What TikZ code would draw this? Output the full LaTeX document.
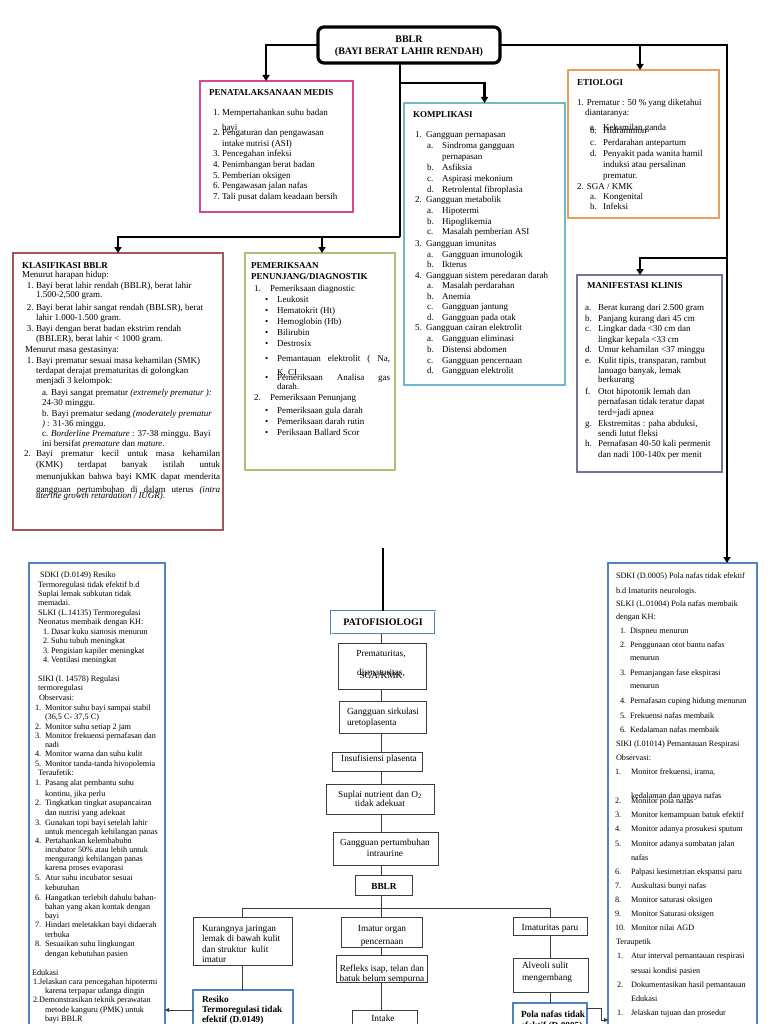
\documentclass[tikz,border=0pt]{standalone}
\usepackage{fontspec}
\setmainfont{Liberation Serif}
\usetikzlibrary{arrows.meta}
\definecolor{cPen}{RGB}{214,72,150}
\definecolor{cKom}{RGB}{110,185,205}
\definecolor{cEti}{RGB}{232,160,95}
\definecolor{cKla}{RGB}{165,85,95}
\definecolor{cPem}{RGB}{185,185,115}
\definecolor{cMan}{RGB}{120,115,150}
\definecolor{cBlu}{RGB}{80,130,190}
\definecolor{cGry}{RGB}{60,60,60}
\newcounter{tln}
\newcommand\tline[3]{\stepcounter{tln}\node[tx,anchor=base west] (t\arabic{tln}) at (#1,#2+3) {#3};}
\newcommand\tcen[3]{\stepcounter{tln}\node[tx,anchor=base] (t\arabic{tln}) at (#1,#2+3) {#3};}
\newcommand\nitem[5]{\tline{#1}{#3}{#4}\tline{#2}{#3}{#5}}
\newcommand\mybox[6]{\node[#2,anchor=north west,minimum width=#5pt-#3pt,minimum height=#6pt-#4pt] (#1) at (#3,#4) {};}
\tikzset{
  tx/.style={inner sep=0pt,outer sep=0pt,font=\fontsize{9}{10}\selectfont},
  fr/.style={draw,inner sep=0pt,outer sep=0pt},
  topbox/.style={fr,draw=black,line width=3.2pt,rounded corners=6pt},
  flowbox/.style={fr,draw=cGry,line width=0.9pt},
  keybox/.style={fr,draw=cBlu,line width=1.8pt},
  conn/.style={line width=2.2pt,black},
  arr/.style={-{Triangle[length=6pt,width=7pt]}},
  arrs/.style={-{Triangle[length=4pt,width=4pt]}},
  fl/.style={draw=cGry,line width=0.8pt}
}
\begin{document}
\begin{tikzpicture}[x=1pt,y=-1pt]
\useasboundingbox (0,0) rectangle (768,1024);
\fill[white] (0,0) rectangle (768,1024);
% ---------- boxes ----------
\mybox{bblr}{topbox}{318}{27}{500}{63}
\mybox{pen}{fr,draw=cPen,line width=2.6pt}{200}{81}{353}{212}
\mybox{kom}{fr,draw=cKom,line width=2.2pt}{404}{103}{565}{385}
\mybox{eti}{fr,draw=cEti,line width=2.6pt}{568}{70}{719}{218}
\mybox{kla}{fr,draw=cKla,line width=2.2pt}{13}{253}{223}{530}
\mybox{pem}{fr,draw=cPem,line width=2.6pt}{245}{253}{395}{470}
\mybox{man}{fr,draw=cMan,line width=2.2pt}{577}{275}{722}{472}
\mybox{lbx}{fr,draw=cBlu,line width=1.4pt}{29}{563}{165}{1034}
\mybox{rbx}{fr,draw=cBlu,line width=1.4pt}{608}{563}{757}{1034}
\mybox{pato}{fr,draw=cBlu,line width=1pt,double=white,double distance=0.8pt}{331}{611}{435}{634}
\mybox{prem}{flowbox}{338}{643}{426}{689}
\mybox{sirk}{flowbox}{339}{701}{426}{733}
\mybox{insf}{flowbox}{332}{752}{422}{771}
\mybox{supl}{flowbox}{326}{784}{434}{814}
\mybox{pert}{flowbox}{333}{832}{438}{865}
\mybox{bbl2}{flowbox}{355}{875}{412}{895}
\mybox{kur}{flowbox}{193}{917}{292}{965}
\mybox{imo}{flowbox}{341}{917}{422}{947}
\mybox{ref}{flowbox}{336}{955}{427}{982}
\mybox{int}{flowbox}{352}{1010}{417}{1040}
\mybox{imp}{flowbox}{513}{917}{587}{935}
\mybox{alv}{flowbox}{513}{958}{588}{992}
\mybox{res}{keybox}{193}{990}{293}{1040}
\mybox{pol}{keybox}{513}{1003}{587}{1040}
% ---------- top connectors ----------
\coordinate (penin) at ([xshift=66pt]pen.north west);
\coordinate (spA) at ([xshift=-9pt]bblr.south);
\coordinate (spB) at (400,237);
\coordinate (komA) at (400,83);
\coordinate (klain) at ([xshift=105pt]kla.north west);
\coordinate (pemin) at ([xshift=77pt]pem.north west);
\coordinate (rtop) at ([xshift=119pt]rbx.north west);
\coordinate (etiin) at ([xshift=72pt]eti.north west);
\coordinate (manin) at ([xshift=63pt]man.north west);
\coordinate (manB) at (727,258);
\coordinate (spC) at (383,548);
\draw[conn,arr] (bblr.west) -| (penin);
\draw[conn] (spA) -- (spB);
\draw[conn,arr] (komA) -| (kom.north);
\draw[conn,arr] (spB) -| (klain);
\draw[conn,arr] (spB -| pemin) -- (pemin);
\draw[conn,arr] (bblr.east) -| (rtop);
\draw[conn,arr] (bblr.east -| etiin) -- (etiin);
\draw[conn,arr] (manB) -| (manin);
\draw[conn] (spC) -- (pato.north);
% ---------- flow connectors ----------
\coordinate (sx) at (381,0);
\coordinate (hb) at (381,908);
\draw[fl] (pato.south -| sx) -- (prem.north -| sx);
\draw[fl] (prem.south -| sx) -- (sirk.north -| sx);
\draw[fl] (sirk.south -| sx) -- (insf.north -| sx);
\draw[fl] (insf.south -| sx) -- (supl.north -| sx);
\draw[fl] (supl.south -| sx) -- (pert.north -| sx);
\draw[fl] (pert.south -| sx) -- (bbl2.north -| sx);
\draw[fl] (bbl2.south -| sx) -- (hb);
\draw[fl] (kur.north |- hb) -- (imp.north |- hb);
\draw[fl] (kur.north |- hb) -- (kur.north);
\draw[fl] (hb) -- (imo.north -| sx);
\draw[fl] (imp.north |- hb) -- (imp.north);
\draw[fl] (imo.south -| sx) -- (ref.north -| sx);
\draw[fl] (ref.south -| sx) -- (int.north -| sx);
\draw[fl] (kur.south) -- (res.north -| kur.south);
\draw[fl] (imp.south) -- (alv.north -| imp.south);
\draw[fl] (alv.south -| imp.south) -- (pol.north -| imp.south);
\coordinate (resA) at ([yshift=-20pt]res.north west);
\coordinate (polA) at ([yshift=-5pt]pol.north east);
\coordinate (polB) at (601,1020);
\draw[fl,arrs] (resA) -- (resA -| lbx.east);
\draw[fl,arrs] (polA) -| (polB) -- (polB -| rbx.west);
% ---------- BBLR title ----------
\tikzset{tx/.style={inner sep=0pt,outer sep=0pt,font=\fontsize{10}{12}\selectfont\bfseries}}
\tcen{409}{40}{BBLR}
\tcen{409}{52}{(BAYI BERAT LAHIR RENDAH)}
% ---------- Penatalaksanaan ----------
\tikzset{tx/.style={inner sep=0pt,outer sep=0pt,font=\fontsize{9}{10}\selectfont}}
\tline{209}{93}{\textbf{PENATALAKSANAAN MEDIS}}
\nitem{213}{222}{113}{1.}{Mempertahankan suhu badan}
\tline{222}{128}{bayi}
\nitem{213}{222}{133}{2.}{Pengaturan dan pengawasan}
\tline{222}{144}{intake nutrisi (ASI)}
\nitem{213}{222}{154}{3.}{Pencegahan infeksi}
\nitem{213}{222}{165}{4.}{Penimbangan berat badan}
\nitem{213}{222}{176}{5.}{Pemberian oksigen}
\nitem{213}{222}{186}{6.}{Pengawasan jalan nafas}
\nitem{213}{222}{197}{7.}{Tali pusat dalam keadaan bersih}
% ---------- Komplikasi ----------
\tline{413}{115}{\textbf{KOMPLIKASI}}
\nitem{415}{426}{135}{1.}{Gangguan pernapasan}
\nitem{427}{442}{146}{a.}{Sindroma gangguan}
\tline{442}{157}{pernapasan}
\nitem{427}{442}{168}{b.}{Asfiksia}
\nitem{427}{442}{179}{c.}{Aspirasi mekonium}
\nitem{427}{442}{190}{d.}{Retrolental fibroplasia}
\nitem{415}{426}{200}{2.}{Gangguan metabolik}
\nitem{427}{442}{211}{a.}{Hipotermi}
\nitem{427}{442}{222}{b.}{Hipoglikemia}
\nitem{427}{442}{232}{c.}{Masalah pemberian ASI}
\nitem{415}{426}{243}{3.}{Gangguan imunitas}
\nitem{427}{442}{254}{a.}{Gangguan imunologik}
\nitem{427}{442}{264}{b.}{Ikterus}
\nitem{415}{426}{275}{4.}{Gangguan sistem peredaran darah}
\nitem{427}{442}{285}{a.}{Masalah perdarahan}
\nitem{427}{442}{296}{b.}{Anemia}
\nitem{427}{442}{306}{c.}{Gangguan jantung}
\nitem{427}{442}{317}{d.}{Gangguan pada otak}
\nitem{415}{426}{327}{5.}{Gangguan cairan elektrolit}
\nitem{427}{442}{338}{a.}{Gangguan eliminasi}
\nitem{427}{442}{349}{b.}{Distensi abdomen}
\nitem{427}{442}{360}{c.}{Gangguan pencernaan}
\nitem{427}{442}{370}{d.}{Gangguan elektrolit}
% ---------- Etiologi ----------
\tline{577}{83}{\textbf{ETIOLOGI}}
\tline{577}{103}{1. Prematur : 50 \% yang diketahui}
\tline{585}{113}{diantaranya:}
\nitem{590}{603}{128}{a.}{Kehamilan ganda}
\nitem{590}{603}{131}{b.}{Hidramnion}
\nitem{590}{603}{143}{c.}{Perdarahan antepartum}
\nitem{590}{603}{154}{d.}{Penyakit pada wanita hamil}
\tline{603}{165}{induksi atau persalinan}
\tline{603}{176}{prematur.}
\tline{577}{187}{2. SGA / KMK}
\nitem{590}{603}{197}{a.}{Kongenital}
\nitem{590}{603}{207}{b.}{Infeksi}
% ---------- Klasifikasi ----------
\tline{22}{265}{\textbf{KLASIFIKASI BBLR}}
\tline{22}{274}{Menurut harapan hidup:}
\nitem{27}{36}{285}{1.}{Bayi berat lahir rendah (BBLR), berat lahir}
\tline{36}{294}{1.500-2,500 gram.}
\nitem{27}{36}{307}{2.}{Bayi berat lahir sangat rendah (BBLSR), berat}
\tline{36}{317}{lahir 1.000-1.500 gram.}
\nitem{27}{36}{328}{3.}{Bayi dengan berat badan ekstrim rendah}
\tline{36}{338}{(BBLER), berat lahir < 1000 gram.}
\tline{25}{349}{Menurut masa gestasinya:}
\nitem{27}{36}{360}{1.}{Bayi prematur sesuai masa kehamilan (SMK)}
\tline{36}{370}{terdapat derajat prematuritas di golongkan}
\tline{36}{380}{menjadi 3 kelompok:}
\tline{42}{392}{a. Bayi sangat prematur \textit{(extremely prematur ):}}
\tline{42}{402}{24-30 minggu.}
\tline{42}{413}{b. Bayi prematur sedang \textit{(moderately prematur}}
\tline{42}{423}{\textit{)} : 31-36 minggu.}
\tline{42}{433}{c. \textit{Borderline Premature} : 37-38 minggu. Bayi}
\tline{42}{443}{ini bersifat \textit{premature} dan \textit{mature}.}
\nitem{24}{36}{453}{2.}{\makebox[184pt][s]{Bayi prematur kecil untuk masa kehamilan}}
\tline{36}{464}{\makebox[184pt][s]{(KMK) terdapat banyak istilah untuk}}
\tline{36}{476}{\makebox[184pt][s]{menunjukkan bahwa bayi KMK dapat menderita}}
\tline{36}{489}{\makebox[184pt][s]{gangguan pertumbuhan di dalam uterus \textit{(intra}}}
\tline{36}{495}{\textit{uterine growth retardation / IUGR)}.}
% ---------- Pemeriksaan ----------
\tline{251}{265}{\textbf{PEMERIKSAAN}}
\tline{251}{276}{\textbf{PENUNJANG/DIAGNOSTIK}}
\nitem{254}{270}{288}{1.}{Pemeriksaan diagnostic}
\nitem{265}{277}{299}{\textbullet}{Leukosit}
\nitem{265}{277}{310}{\textbullet}{Hematokrit (Ht)}
\nitem{265}{277}{321}{\textbullet}{Hemoglobin (Hb)}
\nitem{265}{277}{332}{\textbullet}{Bilirubin}
\nitem{265}{277}{343}{\textbullet}{Destrosix}
\nitem{265}{277}{358}{\textbullet}{\makebox[113pt][s]{Pemantauan elektrolit ( Na,}}
\tline{277}{372}{K, CI.}
\nitem{265}{277}{377}{\textbullet}{\makebox[113pt][s]{Pemeriksaan Analisa gas}}
\tline{277}{386}{darah.}
\nitem{254}{270}{397}{2.}{Pemeriksaan Penunjang}
\nitem{265}{277}{410}{\textbullet}{Pemeriksaan gula darah}
\nitem{265}{277}{421}{\textbullet}{Pemeriksaan darah rutin}
\nitem{265}{277}{432}{\textbullet}{Periksaan Ballard Scor}
% ---------- Manifestasi ----------
\tline{587}{285}{\textbf{MANIFESTASI KLINIS}}
\nitem{585}{598}{307}{a.}{Berat kurang dari 2.500 gram}
\nitem{585}{598}{318}{b.}{Panjang kurang dari 45 cm}
\nitem{585}{598}{328}{c.}{Lingkar dada <30 cm dan}
\tline{598}{339}{lingkar kepala <33 cm}
\nitem{585}{598}{349}{d.}{Umur kehamilan <37 minggu}
\nitem{585}{598}{360}{e.}{Kulit tipis, transparan, rambut}
\tline{598}{370}{lanuago banyak, lemak}
\tline{598}{379}{berkurang}
\nitem{585}{598}{391}{f.}{Otot hipotonik lemah dan}
\tline{598}{401}{pernafasan tidak teratur dapat}
\tline{598}{412}{terd=jadi apnea}
\nitem{585}{598}{423}{g.}{Ekstremitas : paha abduksi,}
\tline{598}{433}{sendi lutut fleksi}
\nitem{585}{598}{443}{h.}{Pernafasan 40-50 kali permenit}
\tline{598}{454}{dan nadi 100-140x per menit}
% ---------- Left bottom box ----------
\tikzset{tx/.style={inner sep=0pt,outer sep=0pt,font=\fontsize{8.2}{9}\selectfont}}
\tline{40}{574}{SDKI (D.0149) Resiko}
\tline{38}{584}{Termoregulasi tidak efektif b.d}
\tline{38}{593}{Suplai lemak subkutan tidak}
\tline{38}{602}{memadai.}
\tline{38}{612}{SLKI (L.14135) Termoregulasi}
\tline{38}{621}{Neonatus membaik dengan KH:}
\nitem{43}{51}{631}{1.}{Dasar kuku sianosis menurun}
\nitem{43}{51}{640}{2.}{Suhu tubuh meningkat}
\nitem{43}{51}{650}{3.}{Pengisian kapiler meningkat}
\nitem{43}{51}{659}{4.}{Ventilasi meningkat}
\tline{38}{678}{SIKI (I. 14578) Regulasi}
\tline{38}{687}{termoregulasi}
\tline{39}{697}{Observasi:}
\nitem{35}{45}{707}{1.}{Monitor suhu bayi sampai stabil}
\tline{45}{716}{(36,5 C- 37,5 C)}
\nitem{35}{45}{726}{2.}{Monitor suhu setiap 2 jam}
\nitem{35}{45}{735}{3.}{Monitor frekuensi pernafasan dan}
\tline{45}{744}{nadi}
\nitem{35}{45}{753}{4.}{Monitor warna dan suhu kulit}
\nitem{35}{45}{763}{5.}{Monitor tanda-tanda hivopolemia}
\tline{38}{772}{Teraufetik:}
\nitem{35}{45}{782}{1.}{Pasang alat pembantu suhu}
\tline{45}{793}{kontinu, jika perlu}
\nitem{35}{45}{802}{2.}{Tingkatkan tingkat asupancairan}
\tline{45}{812}{dan nutrisi yang adekuat}
\nitem{35}{45}{822}{3.}{Gunakan topi bayi setelah lahir}
\tline{45}{831}{untuk mencegah kehilangan panas}
\nitem{35}{45}{840}{4.}{Pertahankan kelembabubn}
\tline{45}{849}{incubator 50\% atau lebih untuk}
\tline{45}{858}{mengurangi kehilangan panas}
\tline{45}{867}{karena proses evaporasi}
\nitem{35}{45}{877}{5.}{Atur suhu incubator sesuai}
\tline{45}{887}{kebutuhan}
\nitem{35}{45}{897}{6.}{Hangatkan terlebih dahulu bahan-}
\tline{45}{906}{bahan yang akan kontak dengan}
\tline{45}{915}{bayi}
\nitem{35}{45}{924}{7.}{Hindari meletakkan bayi didaerah}
\tline{45}{934}{terbuka}
\nitem{35}{45}{943}{8.}{Sesuaikan suhu lingkungan}
\tline{45}{953}{dengan kebutuhan pasien}
\tline{32}{972}{Edukasi}
\tline{33}{981}{1.Jelaskan cara pencegahan hipotermi}
\tline{45}{990}{karena terpapar udanga dingin}
\tline{33}{999}{2.Demonstrasikan teknik perawatan}
\tline{45}{1009}{metode kanguru (PMK) untuk}
\tline{45}{1018}{bayi BBLR}
% ---------- Right bottom box ----------
\tline{616}{575}{SDKI (D.0005) Pola nafas tidak efektif}
\tline{616}{590}{b.d Imaturits neurologis.}
\tline{616}{603}{SLKI (L.01004) Pola nafas membaik}
\tline{616}{616}{dengan KH:}
\nitem{620}{630}{630}{1.}{Dispneu menurun}
\nitem{620}{630}{644}{2.}{Penggunaan otot bantu nafas}
\tline{630}{657}{menurun}
\nitem{620}{630}{672}{3.}{Pemanjangan fase ekspirasi}
\tline{630}{685}{menurun}
\nitem{620}{630}{700}{4.}{Pernafasan cuping hidung menurun}
\nitem{620}{630}{715}{5.}{Frekuensi nafas membaik}
\nitem{620}{630}{729}{6.}{Kedalaman nafas membaik}
\tline{616}{743}{SIKI (I.01014) Pemantauan Respirasi}
\tline{616}{757}{Observasi:}
\nitem{615}{631}{771}{1.}{Monitor frekuensi, irama,}
\tline{631}{795}{kedalaman dan upaya nafas}
\nitem{615}{631}{800}{2.}{Monitor pola nafas}
\nitem{615}{631}{814}{3.}{Monitor kemampuan batuk efektif}
\nitem{615}{631}{828}{4.}{Monitor adanya prosukesi sputum}
\nitem{615}{631}{843}{5.}{Monitor adanya sumbatan jalan}
\tline{631}{857}{nafas}
\nitem{615}{631}{871}{6.}{Palpasi kesimetrian ekspansi paru}
\nitem{615}{631}{885}{7.}{Auskultasi bunyi nafas}
\nitem{615}{631}{899}{8.}{Monitor saturasi oksigen}
\nitem{615}{631}{913}{9.}{Monitor Saturasi oksigen}
\nitem{615}{631}{927}{10.}{Monitor nilai AGD}
\tline{616}{941}{Teraupetik}
\nitem{617}{631}{955}{1.}{Atur interval pemantauan respirasi}
\tline{631}{970}{sesuai kondisi pasien}
\nitem{617}{631}{984}{2.}{Dokumentasikan hasil pemantauan}
\tline{631}{998}{Edukasi}
\nitem{617}{631}{1012}{1.}{Jelaskan tujuan dan prosedur}
% ---------- Flow texts ----------
\tikzset{tx/.style={inner sep=0pt,outer sep=0pt,font=\fontsize{10}{12}\selectfont\bfseries}}
\tcen{383}{622}{PATOFISIOLOGI}
\tikzset{tx/.style={inner sep=0pt,outer sep=0pt,font=\fontsize{9.3}{11}\selectfont}}
\tcen{381}{653}{Prematuritas,}
\tcen{381}{672}{dismaturitas,}
\tcen{381}{675}{SGA/KMK}
\tline{347}{711}{Gangguan sirkulasi}
\tline{347}{722}{uretoplasenta}
\tcen{379}{758}{Insufisiensi plasenta}
\tcen{380}{794}{Suplai nutrient dan O\textsubscript{2}}
\tcen{380}{803}{tidak adekuat}
\tcen{385}{842}{Gangguan pertumbuhan}
\tcen{385}{853}{intraurine}
\tcen{384}{886}{\textbf{BBLR}}
\tline{202}{928}{Kurangnya jaringan}
\tline{202}{938}{lemak di bawah kulit}
\tline{202}{949}{dan struktur\ \ kulit}
\tline{202}{959}{imatur}
\tcen{382}{928}{Imatur organ}
\tcen{382}{941}{pencernaan}
\tcen{382}{968}{Refleks isap, telan dan}
\tcen{382}{978}{batuk belum sempurna}
\tcen{383}{1018}{Intake}
\tcen{550}{927}{Imaturitas paru}
\tline{522}{965}{Alveoli sulit}
\tline{522}{977}{mengembang}
\tline{202}{999}{\textbf{Resiko}}
\tline{202}{1009}{\textbf{Termoregulasi tidak}}
\tline{202}{1019}{\textbf{efektif (D.0149)}}
\tline{521}{1014}{\textbf{Pola nafas tidak}}
\tline{521}{1025}{\textbf{efektif (D.0005)}}
\end{tikzpicture}
\end{document}
